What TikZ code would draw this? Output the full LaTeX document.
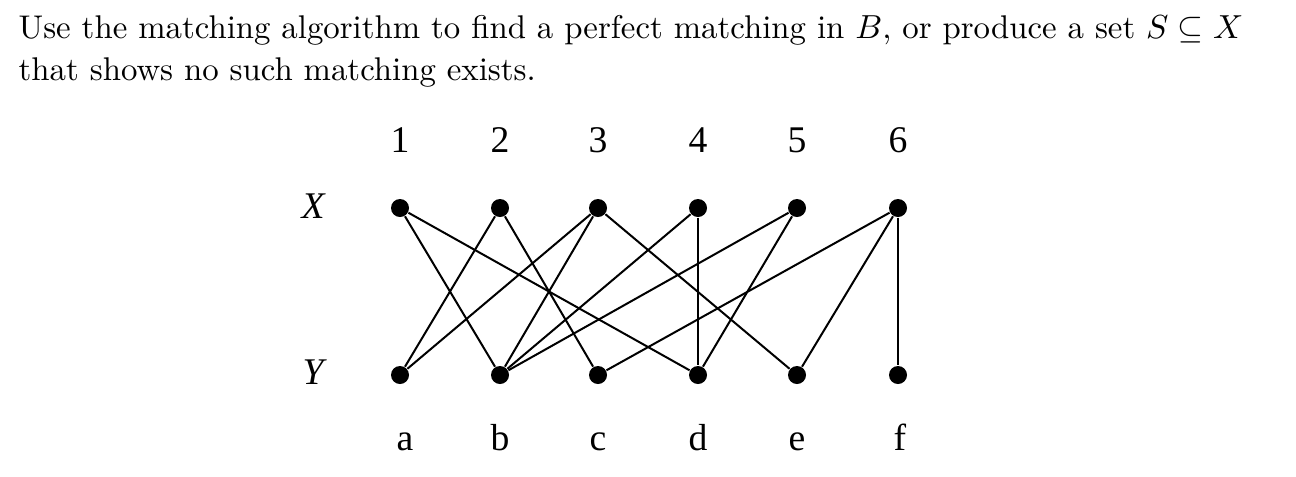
\documentclass[tikz,border=0pt]{standalone}
\usepackage{fontspec}
\newfontfamily\timesfont{Liberation Serif}
\usetikzlibrary{positioning}

\begin{document}
\begin{tikzpicture}[x=0.3pt,y=-0.3pt,
    vertex/.style={circle,fill=black,inner sep=0pt,minimum size=5.4pt},
    vlabel/.style={anchor=base,inner sep=0pt,font=\timesfont\fontsize{11.3}{13}\selectfont},
    task/.style={anchor=base west,inner sep=0pt,font=\fontsize{9.85}{12}\selectfont}]
    \useasboundingbox (0,0) rectangle (1296,476);
    % problem statement
    \node[task] (line1) at (18,38) {Use the matching algorithm to find a perfect matching in $B$, or produce a set $S\subseteq X$};
    \node[task] (line2) at (18,80) {that shows no such matching exists.};
    % side labels
    \node[vlabel] (lx) at (313,218) {\itshape X};
    \node[vlabel] (ly) at (313,384) {\itshape Y};
    % X vertices
    \node[vertex] (x1) at (400,208) {};
    \node[vertex] (x2) at (500,208) {};
    \node[vertex] (x3) at (598,208) {};
    \node[vertex] (x4) at (698,208) {};
    \node[vertex] (x5) at (797,208) {};
    \node[vertex] (x6) at (898,208) {};
    % Y vertices
    \node[vertex] (ya) at (400,375) {};
    \node[vertex] (yb) at (500,375) {};
    \node[vertex] (yc) at (598,375) {};
    \node[vertex] (yd) at (698,375) {};
    \node[vertex] (ye) at (797,375) {};
    \node[vertex] (yf) at (898,375) {};
    % numbers and letters
    \node[vlabel] (n1) at (400,152) {1};
    \node[vlabel] (n2) at (500,152) {2};
    \node[vlabel] (n3) at (598,152) {3};
    \node[vlabel] (n4) at (698,152) {4};
    \node[vlabel] (n5) at (797,152) {5};
    \node[vlabel] (n6) at (898,152) {6};
    \node[vlabel] (la) at (405,450) {a};
    \node[vlabel] (lb) at (500,450) {b};
    \node[vlabel] (lc) at (598,450) {c};
    \node[vlabel] (ld) at (698,450) {d};
    \node[vlabel] (le) at (797,450) {e};
    \node[vlabel] (lf) at (900,450) {f};
    % edges
    \draw[line width=0.6pt] (x1) -- (yb);
    \draw[line width=0.6pt] (x1) -- (yd);
    \draw[line width=0.6pt] (x2) -- (ya);
    \draw[line width=0.6pt] (x2) -- (yc);
    \draw[line width=0.6pt] (x3) -- (ya);
    \draw[line width=0.6pt] (x3) -- (yb);
    \draw[line width=0.6pt] (x3) -- (ye);
    \draw[line width=0.6pt] (x4) -- (yb);
    \draw[line width=0.6pt] (x4) -- (yd);
    \draw[line width=0.6pt] (x5) -- (yb);
    \draw[line width=0.6pt] (x5) -- (yd);
    \draw[line width=0.6pt] (x6) -- (yc);
    \draw[line width=0.6pt] (x6) -- (ye);
    \draw[line width=0.6pt] (x6) -- (yf);
\end{tikzpicture}
\end{document}
